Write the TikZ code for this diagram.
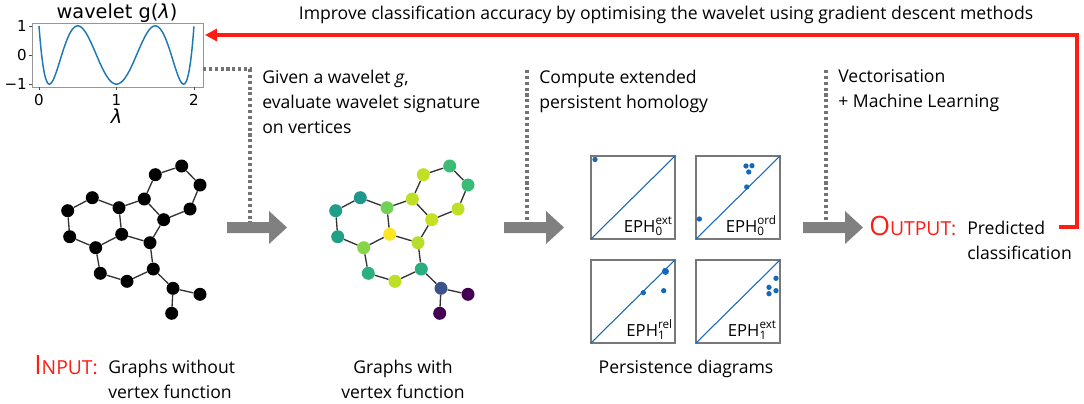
\documentclass[tikz,border=0pt]{standalone}
\usepackage{amsmath}
\usepackage{fontspec}
\setmainfont{Open Sans}
\newfontfamily\djv{DejaVu Sans}
\usetikzlibrary{arrows.meta}
\definecolor{arrowgrey}{RGB}{128,128,128}
\definecolor{dotgrey}{RGB}{115,115,115}
\definecolor{pdblue}{RGB}{24,104,186}
\definecolor{mplblue}{RGB}{31,119,180}
\definecolor{myred}{RGB}{255,28,20}
\definecolor{framegrey}{RGB}{150,150,150}
\definecolor{pdframe}{RGB}{120,120,120}
% viridis colours of the vertices
\definecolor{c1}{HTML}{1F9E89}
\definecolor{c2}{HTML}{1F988B}
\definecolor{c3}{HTML}{73D056}
\definecolor{c4}{HTML}{BDDF26}
\definecolor{c5}{HTML}{C2DF23}
\definecolor{c6}{HTML}{3BBB75}
\definecolor{c7}{HTML}{3BBB75}
\definecolor{c8}{HTML}{BDDF26}
\definecolor{c9}{HTML}{C8E020}
\definecolor{c10}{HTML}{FDE725}
\definecolor{c11}{HTML}{B5DE2B}
\definecolor{c12}{HTML}{1FA188}
\definecolor{c13}{HTML}{86D549}
\definecolor{c14}{HTML}{2AB07F}
\definecolor{c15}{HTML}{BDDF26}
\definecolor{c16}{HTML}{29AF7F}
\definecolor{c17}{HTML}{3B528B}
\definecolor{c18}{HTML}{440154}
\definecolor{c19}{HTML}{440154}
\tikzset{
  gnode/.style={circle, minimum size=9.75pt, inner sep=0pt},
  gedge/.style={draw=black!80, line width=1pt},
  dotline/.style={draw=dotgrey, line width=2.6pt, dash pattern=on 2.3pt off 2.1pt},
  redline/.style={draw=myred, line width=2.3pt, line join=miter, -{Triangle[length=9pt,width=9pt]}},
  caption/.style={font=\fontsize{13.2}{18.75}\selectfont, align=left, inner sep=0pt},
  toptext/.style={font=\fontsize{13.2}{15}\selectfont, inner sep=0pt},
  ticklab/.style={font=\djv\fontsize{11.3}{12}\selectfont, inner sep=0pt},
  plottitle/.style={font=\djv\fontsize{14.5}{16}\selectfont, inner sep=0pt},
  pdbox/.style={draw=pdframe, line width=0.9pt},
  pddiag/.style={draw=pdblue, line width=0.8pt},
  pddot/.style={fill=pdblue},
  pdlab/.style={font=\fontsize{12.5}{14}\selectfont, inner sep=0pt, anchor=base east},
  redcap/.style={text=myred, inner sep=0pt, anchor=base west},
  garrow/.pic={\fill[arrowgrey] (0,-5.5) -- (42,-5.5) -- (42,-16.5) -- (60,0) -- (42,16.5) -- (42,5.5) -- (0,5.5) -- cycle;},
  declare function={cheb(\u)=((32*\u-48)*\u+18)*\u-1;}
}
\begin{document}
\begin{tikzpicture}[x=0.75pt,y=-0.75pt]
\fill[white] (0,0) rectangle (1084,403);
\useasboundingbox (0,0) rectangle (1084,403);

% ---------- top feedback text ----------
\node[toptext] (improve) at (666,15) {Improve classification accuracy by optimising the wavelet using gradient descent methods};

% ---------- wavelet plot ----------
\coordinate (wnw) at (32,23);
\coordinate (wse) at (203,87);
\draw[framegrey, line width=0.6pt] (wnw) rectangle (wse);
\draw[mplblue, line width=1.1pt] plot[domain=0:2, samples=241] ({39+77.5*\x},{55-29.1*cheb((\x-1)*(\x-1))});
\foreach \xx in {39,116.5,194} \draw[black!70, line width=0.5pt] (\xx,87) -- (\xx,90);
\foreach \yy in {25.9,55,84.1} \draw[black!70, line width=0.5pt] (32,\yy) -- (29,\yy);
\node[plottitle] (wtitle) at (117,13.5) {wavelet g(\textit{λ})};
\node[ticklab, anchor=east] (y1) at (27,25.9) {1};
\node[ticklab, anchor=east] (y0) at (27,55) {0};
\node[ticklab, anchor=east] (ym1) at (27,84.1) {−1};
\node[ticklab] (x0) at (39,100) {0};
\node[ticklab] (x1) at (116.5,100) {1};
\node[ticklab] (x2) at (194,100) {2};
\node[plottitle] (xlab) at (116.5,116) {\textit{λ}};

% ---------- graphs ----------
\foreach \i/\x/\y in {1/67.7/210.7, 2/92.3/197.7, 3/119/207.7, 4/144.3/199, 5/155.3/174.7,
  6/181.7/166, 7/200/185, 8/190/209, 9/163.7/219.7, 10/121.7/234.3, 11/150/242.7,
  12/69.7/236.7, 13/95.7/247.7, 14/100.3/273.3, 15/127/281.3, 16/153.3/269,
  17/173/288.3, 18/200/294.3, 19/171.7/313.3}
{
  \node[gnode, fill=black] (g\i) at (\x,\y) {};
  \node[gnode, fill=c\i] (h\i) at (\x+268,\y) {};
}
\foreach \a/\b in {1/2,2/3,3/4,4/5,5/6,6/7,7/8,8/9,9/4,9/11,3/10,10/11,10/13,1/12,12/13,
  13/14,14/15,15/16,16/11,16/17,17/18,17/19}
{
  \draw[gedge] (g\a) -- (g\b);
  \draw[gedge] (h\a) -- (h\b);
}

% ---------- block arrows ----------
\pic at (227,227.5) {garrow};
\pic at (504,227.5) {garrow};
\pic at (803,227.5) {garrow};

% ---------- dotted connectors ----------
\coordinate (wdot) at (203,69);
\coordinate (a1top) at (250,222);
\coordinate (s2top) at (527,70);
\coordinate (a2top) at (527,222);
\coordinate (s3top) at (826,70);
\coordinate (a3top) at (826,222);
\draw[dotline] (wdot) -| (a1top);
\draw[dotline] (s2top) -- (a2top);
\draw[dotline] (s3top) -- (a3top);

% ---------- step captions ----------
\node[caption, anchor=north west] (step1) at (262,69.5) {Given a wavelet \textit{g},\\evaluate wavelet signature\\on vertices};
\node[caption, anchor=north west] (step2) at (539,69.5) {Compute extended\\persistent homology};
\node[caption, anchor=north west] (step3) at (838,69.5) {Vectorisation\\+ Machine Learning};

% ---------- persistence diagrams ----------
\foreach \n/\xa/\ya in {1/591/156, 2/696/156, 3/591/260, 4/696/260}
{
  \draw[pdbox] (\xa,\ya) rectangle (\xa+84,\ya+83);
  \draw[pddiag] (\xa,\ya+83) -- (\xa+84,\ya);
}
\foreach \x/\y in {595/159.5, 746/166, 752/165.7, 748.7/172, 746.7/187, 699.3/219,
  665/270.5, 643.3/292.7, 663.7/290.7, 776/278.3, 769/287.3, 776/290.7, 769/293.7}
  \fill[pddot] (\x,\y) circle (2pt);
\fill[pddot] (665.5,271.5) circle (2.6pt);
\node[pdlab] (l1) at (673,232) {$\text{EPH}^{\text{ext}}_{\text{0}}$};
\node[pdlab] (l2) at (777,232) {$\text{EPH}^{\text{ord}}_{\text{0}}$};
\node[pdlab] (l3) at (673,336) {$\text{EPH}^{\text{rel}}_{\text{1}}$};
\node[pdlab] (l4) at (777,336) {$\text{EPH}^{\text{ext}}_{\text{1}}$};

% ---------- bottom captions ----------
\node[redcap] (input) at (34,374) {\fontsize{20}{20}\selectfont I\fontsize{14.5}{14.5}\selectfont NPUT:};
\node[caption, anchor=north west] (cap1) at (108,359.5) {Graphs without\\vertex function};
\node[caption, align=center, anchor=north] (cap2) at (403,359.5) {Graphs with\\vertex function};
\node[caption, anchor=north] (cap3) at (686,359.5) {Persistence diagrams};

% ---------- output ----------
\node[redcap] (output) at (869,235.5) {\fontsize{20}{20}\selectfont O\fontsize{14.5}{14.5}\selectfont UTPUT:};
\node[caption, anchor=north west] (pred) at (967,220.5) {Predicted\\classification};

% ---------- feedback arrow ----------
\coordinate (predend) at (1059,227);
\coordinate (rcorner) at (1077,35);
\coordinate (wtip) at (205,35);
\draw[redline] (predend) -| (rcorner) -- (wtip);
\end{tikzpicture}
\end{document}
